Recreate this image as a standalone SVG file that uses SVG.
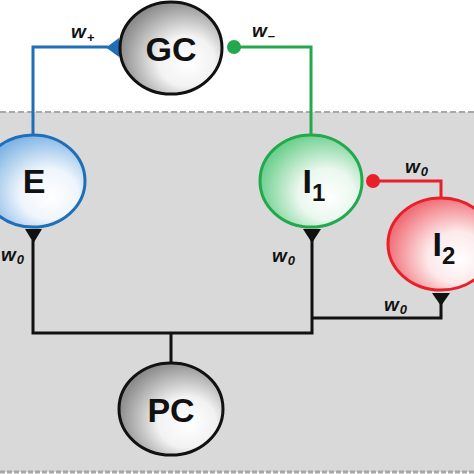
<svg xmlns="http://www.w3.org/2000/svg" width="474" height="474" viewBox="0 0 474 474">
<defs>
<radialGradient id="gGray" cx="0.62" cy="0.6" r="0.62" fx="0.68" fy="0.68">
<stop offset="0" stop-color="#ffffff"/><stop offset="0.45" stop-color="#f2f2f2"/><stop offset="1" stop-color="#8c8c8c"/>
</radialGradient>
<radialGradient id="gBlue" cx="0.62" cy="0.6" r="0.62" fx="0.68" fy="0.68">
<stop offset="0" stop-color="#ffffff"/><stop offset="0.45" stop-color="#eef5fc"/><stop offset="1" stop-color="#7fb4e4"/>
</radialGradient>
<radialGradient id="gGreen" cx="0.62" cy="0.6" r="0.62" fx="0.68" fy="0.68">
<stop offset="0" stop-color="#ffffff"/><stop offset="0.45" stop-color="#eaf8ee"/><stop offset="1" stop-color="#6fd08f"/>
</radialGradient>
<radialGradient id="gRed" cx="0.62" cy="0.6" r="0.62" fx="0.68" fy="0.68">
<stop offset="0" stop-color="#ffffff"/><stop offset="0.45" stop-color="#fde9ea"/><stop offset="1" stop-color="#f07078"/>
</radialGradient>
</defs>
<style>
.lbl{font-family:"Liberation Sans",Arial,sans-serif;font-weight:bold;fill:#111;text-anchor:middle}
.w{font-family:"Liberation Sans",Arial,sans-serif;font-weight:bold;font-style:italic;fill:#111;font-size:19px}
.sub{font-size:13px}
.ln{fill:none;stroke-width:3}
</style>
<rect x="-2" y="112" width="478" height="360" fill="#d9d9d9"/>
<line x1="0" y1="112" x2="474" y2="112" stroke="#a8a8a8" stroke-width="2" stroke-dasharray="6,3"/>
<line x1="0" y1="472" x2="474" y2="472" stroke="#a8a8a8" stroke-width="3" stroke-dasharray="5,2"/>

<g id="connectors">
<polyline class="ln" stroke="#1f6fb8" points="33,135 33,47 108,47"/>
<polygon fill="#1f6fb8" points="119,38 119,57 106,47.5"/>
<polyline class="ln" stroke="#22a84d" points="234,47 311,47 311,135"/>
<circle cx="234" cy="47" r="7" fill="#22a84d"/>
<polyline class="ln" stroke="#e8202a" points="373,181 441,181 441,198"/>
<circle cx="373" cy="181" r="7" fill="#e8202a"/>
<polyline class="ln" stroke="#111" points="33,240 33,333 312,333 312,240"/>
<polyline class="ln" stroke="#111" points="312,318 441,318 441,303"/>
<line class="ln" stroke="#111" x1="171" y1="333" x2="171" y2="364"/>
<polygon fill="#111" points="25,229 42,229 33.5,243"/>
<polygon fill="#111" points="303,229 321,229 312,243"/>
<polygon fill="#111" points="432,293 450,293 441,306"/>
<text class="w" x="71" y="38">w<tspan class="sub" dx="1" dy="4">+</tspan></text>
<text class="w" x="252" y="37">w<tspan class="sub" dx="1" dy="3">–</tspan></text>
<text class="w" x="405" y="173">w<tspan class="sub" dx="1" dy="3">0</tspan></text>
<text class="w" x="1" y="261">w<tspan class="sub" dx="1" dy="3">0</tspan></text>
<text class="w" x="272" y="262">w<tspan class="sub" dx="1" dy="3">0</tspan></text>
<text class="w" x="384" y="311">w<tspan class="sub" dx="1" dy="3">0</tspan></text>
</g>

<g id="GC">
<ellipse cx="171" cy="48" rx="51" ry="46" fill="url(#gGray)" stroke="#111" stroke-width="3"/>
<text class="lbl" x="171" y="61" font-size="34">GC</text>
</g>
<g id="E">
<ellipse cx="33" cy="181" rx="52" ry="46" fill="url(#gBlue)" stroke="#1f6fb8" stroke-width="3"/>
<text class="lbl" x="34" y="193" font-size="34">E</text>
</g>
<g id="I1">
<ellipse cx="311" cy="181" rx="51" ry="46" fill="url(#gGreen)" stroke="#22a84d" stroke-width="3"/>
<text class="lbl" x="314" y="193" font-size="34">I<tspan font-size="24" dy="8">1</tspan></text>
</g>
<g id="I2">
<ellipse cx="441" cy="244" rx="53" ry="46" fill="url(#gRed)" stroke="#e8202a" stroke-width="3"/>
<text class="lbl" x="444" y="256" font-size="34">I<tspan font-size="24" dy="8">2</tspan></text>
</g>
<g id="PC">
<ellipse cx="171" cy="409" rx="52" ry="46" fill="url(#gGray)" stroke="#111" stroke-width="3"/>
<text class="lbl" x="171" y="422" font-size="34">PC</text>
</g>
</svg>
